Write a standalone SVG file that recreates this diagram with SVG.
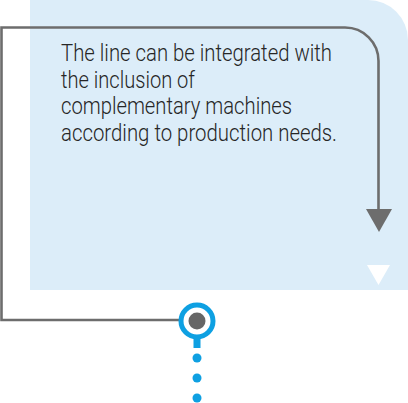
<svg xmlns="http://www.w3.org/2000/svg" width="408" height="403" viewBox="0 0 408 403">
<style>
.bg{fill:#dcedf9}
.conn{fill:none;stroke:#6d6d6d;stroke-width:2.6}
.head{fill:#6d6d6d}
.txt{font-family:Roboto,"Liberation Sans",sans-serif;font-size:24px;font-weight:300;fill:#262626}
.blue{fill:#0ea0e2}
</style>
<g id="panel">
<path class="bg" d="M30,0 H368 A40,40 0 0 1 408,40 V290 H30 Z"/>
<polygon points="367,265 390,265 378.5,285" fill="#fff"/>
<text class="txt" x="61" y="61" textLength="271" lengthAdjust="spacingAndGlyphs">The line can be integrated with</text>
<text class="txt" x="61" y="87.5" textLength="134" lengthAdjust="spacingAndGlyphs">the inclusion of</text>
<text class="txt" x="61" y="114" textLength="231" lengthAdjust="spacingAndGlyphs">complementary machines</text>
<text class="txt" x="61" y="140.5" textLength="276" lengthAdjust="spacingAndGlyphs">according to production needs.</text>
</g>
<g id="connectors">
<path class="conn" d="M182,320 H1.5 V27.5 H345 A33.5,33.5 0 0 1 378.5,61 V212"/>
<polygon class="head" points="366,209 392,209 379,232"/>
</g>
<g id="node">
<circle cx="197" cy="321" r="16" fill="#fff" stroke="#0ea0e2" stroke-width="5"/>
<circle cx="197" cy="321" r="8.5" fill="#666"/>
<rect class="blue" x="193.5" y="335" width="7" height="13"/>
<circle class="blue" cx="197" cy="358" r="4.5"/>
<circle class="blue" cx="197" cy="378" r="4.5"/>
<circle class="blue" cx="197" cy="398" r="4.5"/>
</g>
</svg>
